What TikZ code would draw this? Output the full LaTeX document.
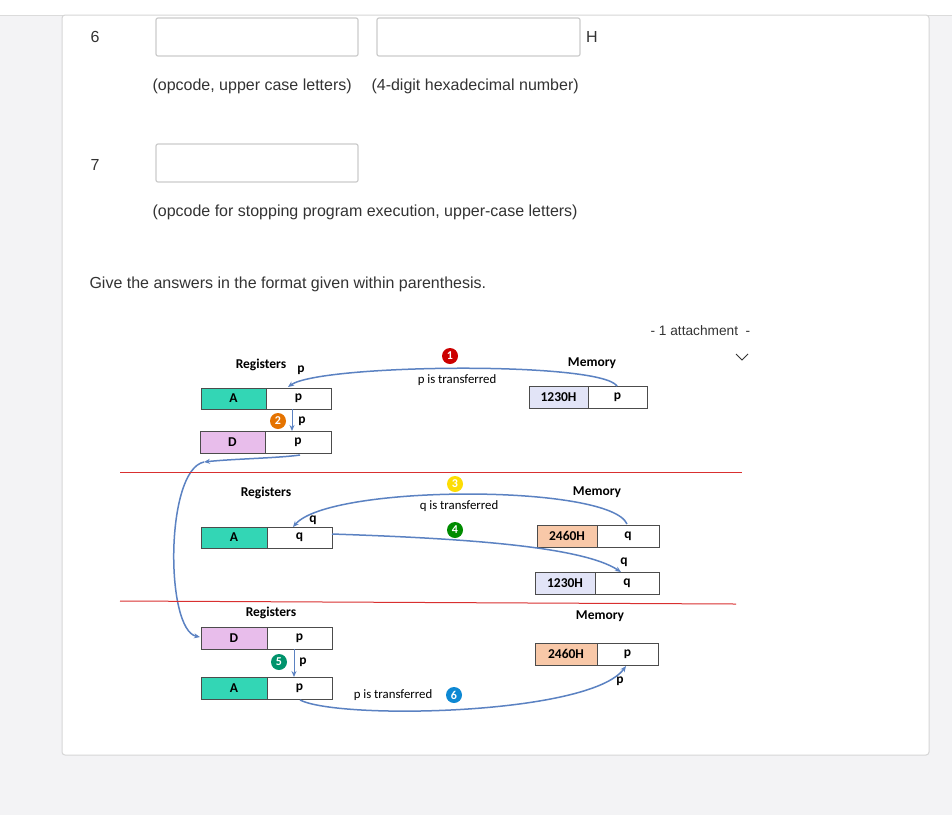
\documentclass[tikz,border=0pt]{standalone}
\usepackage{fontspec}
\setmainfont{Liberation Sans}
\newfontfamily\carl{Carlito}
\usetikzlibrary{arrows.meta}
\definecolor{bg}{HTML}{F3F3F5}
\definecolor{ans}{HTML}{CCCCCC}
\definecolor{txt}{HTML}{333333}
\definecolor{cA}{HTML}{33D6B5}
\definecolor{cD}{HTML}{E8BDEB}
\definecolor{cM}{HTML}{E2E4F7}
\definecolor{cQ}{HTML}{F8C8A8}
\definecolor{arr}{HTML}{5B82C2}
\definecolor{redl}{HTML}{D93030}
\tikzset{
 ansbox/.style={draw=ans,line width=1.2pt,rounded corners=2pt},
 qtxt/.style={anchor=west,text=txt,font=\fontsize{16}{18}\selectfont},
 cell/.style={draw=black!70,line width=0.5pt},
 lab/.style={font=\carl\bfseries\fontsize{13.5}{15}\selectfont},
 small/.style={font=\carl\fontsize{12.8}{14}\selectfont},
 flow/.style={draw=arr,line width=1.5pt,-{Stealth[length=6pt,width=5pt]}},
 num/.style={circle,inner sep=0pt,minimum size=16pt,text=white,font=\carl\bfseries\fontsize{12}{13}\selectfont},
 sep/.style={draw=redl,line width=1pt}
}
\begin{document}
\begin{tikzpicture}[x=1pt,y=-1pt]
\useasboundingbox (0,0) rectangle (952,815);
\fill[bg] (0,0) rectangle (952,815);
\fill[white] (0,0) rectangle (952,15);
\draw[ans!70,line width=0.6pt] (0,15) -- (952,15);
\draw[fill=white,draw=ans!80,line width=1pt,rounded corners=3pt] (62,15) rectangle (929,755);
% questions
\node[text=txt,font=\fontsize{16}{18}\selectfont] (n6) at (95,37) {6};
\draw[ansbox] (156,18) rectangle (358,56);
\draw[ansbox] (377,18) rectangle (580,56);
\node[text=txt,font=\fontsize{16}{18}\selectfont] (h) at (592,37) {H};
\node[qtxt] (t1) at (149,86) {(opcode, upper case letters)};
\node[qtxt] (t2) at (368,86) {(4-digit hexadecimal number)};
\node[text=txt,font=\fontsize{16}{18}\selectfont] (n7) at (95,165) {7};
\draw[ansbox] (156,144) rectangle (358,182);
\node[qtxt] (t3) at (149,212) {(opcode for stopping program execution, upper-case letters)};
\node[qtxt] (t4) at (86,284) {Give the answers in the format given within parenthesis.};
\node[text=txt,anchor=west,font=\fontsize{13.7}{15}\selectfont] (att) at (647,331) {- 1 attachment\ \ -};
\draw[txt,line width=0.8pt] (736,354) -- (742,360) -- (748,354);
% section 1
\node[lab] (r1) at (261,365) {Registers};
\node[lab] (p1) at (301,370) {p};
\node[lab] (m1) at (592,363) {Memory};
\draw[cell,fill=cA] (201,388) rectangle node[lab]{A} (266,409);
\draw[cell] (266,388) rectangle node[lab](a1){p} (331,409);
\draw[cell,fill=cD] (200,431) rectangle node[lab]{D} (265,453);
\draw[cell] (265,431) rectangle node[lab](d1){p} (331,453);
\draw[cell,fill=cM] (529,386) rectangle node[lab]{1230H} (588,408);
\draw[cell] (588,386) rectangle node[lab](mm1){p} (647,408);
\node[num,fill=red!80!black] (c1) at (450,356) {1};
\node[small] (pt1) at (457,380) {p is transferred};
\node[num,fill=orange!90!black] (c2) at (278,421) {2};
\node[lab] (p2) at (302,421) {p};
\coordinate (s1) at (617,386); \coordinate (e1) at (288,387);
\draw[flow] (s1) .. controls (600,361) and (320,364) .. (e1);
\coordinate (s2) at (292,409); \coordinate (e2) at (292,431);
\draw[flow,line width=1pt] (s2) -- (e2);
\coordinate (s3) at (300,455); \coordinate (e3) at (204,462);
\draw[flow] (s3) .. controls (280,458) and (230,459) .. (e3);
\coordinate (e4) at (200,637);
\draw[flow] (e3) .. controls (165,470) and (165,630) .. (e4);
\draw[sep] (120,472) -- (742,472);
% section 2
\node[lab] (r2) at (266,493) {Registers};
\node[lab] (m2) at (597,492) {Memory};
\node[num,fill=yellow!80!orange] (c3) at (455,484) {3};
\node[small] (qt) at (459,506) {q is transferred};
\node[num,fill=green!55!black] (c4) at (455,530) {4};
\draw[cell,fill=cA] (201,527) rectangle node[lab]{A} (267,548);
\draw[cell] (267,527) rectangle node[lab](a2){q} (332,548);
\node[lab] (q1) at (313,520) {q};
\draw[cell,fill=cQ] (537,525) rectangle node[lab]{2460H} (597,547);
\draw[cell] (597,525) rectangle node[lab]{q} (659,547);
\node[lab] (q2) at (624,562) {q};
\draw[cell,fill=cM] (535,572) rectangle node[lab]{1230H} (595,594);
\draw[cell] (595,572) rectangle node[lab]{q} (659,594);
\coordinate (s5) at (627,524); \coordinate (e5) at (293,527);
\draw[flow] (s5) .. controls (610,484) and (330,484) .. (e5);
\coordinate (s6) at (332,534); \coordinate (e6) at (621,572);
\draw[flow] (s6) .. controls (450,538) and (580,545) .. (e6);
\draw[sep] (120,601) -- (736,604);
% section 3
\node[lab] (r3) at (271,613) {Registers};
\node[lab] (m3) at (600,616) {Memory};
\draw[cell,fill=cD] (201,627) rectangle node[lab]{D} (267,649);
\draw[cell] (267,627) rectangle node[lab]{p} (332,649);
\node[num,fill=teal!85!green] (c5) at (279,662) {5};
\node[lab] (p5) at (303,662) {p};
\coordinate (s7) at (294,649); \coordinate (e7) at (294,677);
\draw[flow,line width=1pt] (s7) -- (e7);
\draw[cell,fill=cA] (201,677) rectangle node[lab]{A} (267,699);
\draw[cell] (267,677) rectangle node[lab]{p} (332,699);
\draw[cell,fill=cQ] (535,643) rectangle node[lab]{2460H} (597,665);
\draw[cell] (597,643) rectangle node[lab]{p} (658,665);
\node[lab] (p6) at (620,681) {p};
\node[small] (pt3) at (393,695) {p is transferred};
\node[num,fill=cyan!70!blue] (c6) at (454,695) {6};
\coordinate (s8) at (300,700); \coordinate (e8) at (626,666);
\draw[flow] (s8) .. controls (340,720) and (590,715) .. (e8);
\end{tikzpicture}
\end{document}
